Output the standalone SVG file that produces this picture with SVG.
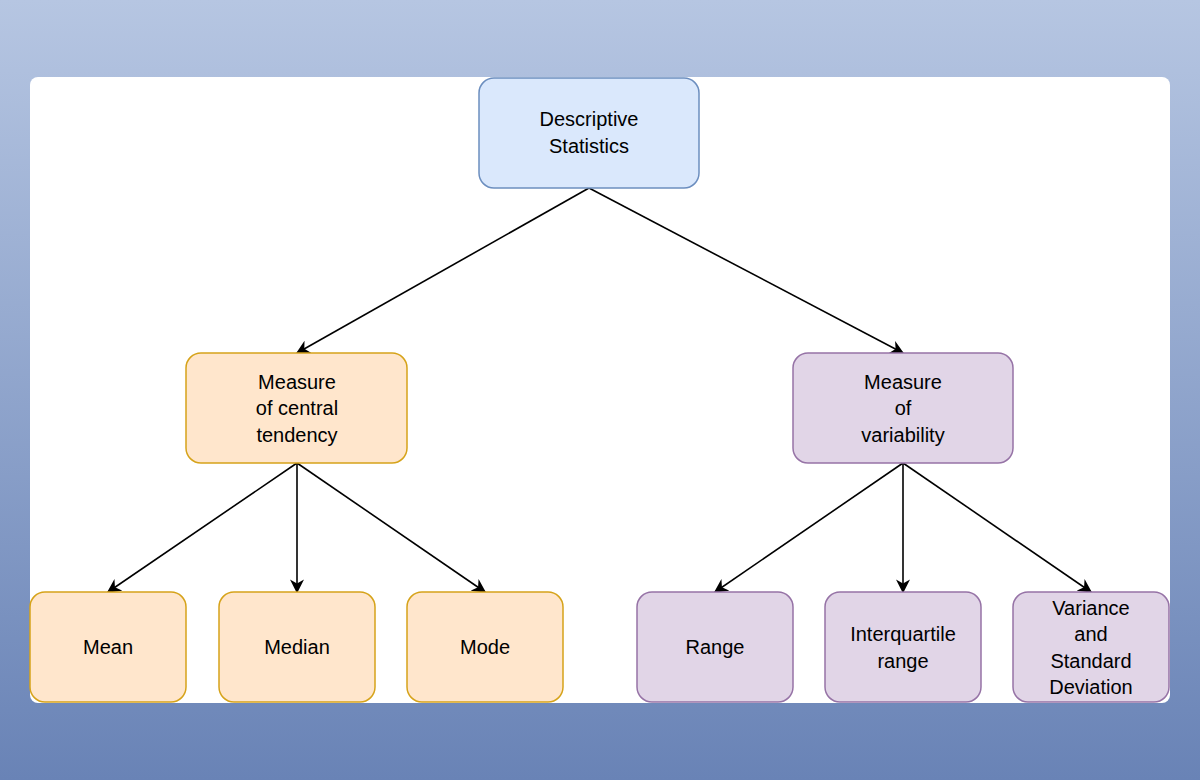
<svg xmlns="http://www.w3.org/2000/svg" width="1200" height="780" viewBox="0 0 1200 780">
<defs>
<linearGradient id="bg" x1="0" y1="0" x2="0" y2="1"><stop offset="0" stop-color="#b6c6e2"/><stop offset="1" stop-color="#6983b6"/></linearGradient>
<marker id="ah" viewBox="0 0 10 10" refX="9" refY="5" markerWidth="7" markerHeight="7" markerUnits="userSpaceOnUse" orient="auto"><path d="M0,0 L10,5 L0,10 L3,5 Z" fill="#000"/></marker>
<marker id="a" viewBox="0 0 10 10" refX="9" refY="5" markerWidth="14" markerHeight="14" markerUnits="userSpaceOnUse" orient="auto"><path d="M0,0 L10,5 L0,10 L3,5 Z" fill="#000"/></marker>
</defs>
<style>
text{font-family:"Liberation Sans",Arial,sans-serif;font-size:20px;fill:#000;text-anchor:middle}
.b{fill:#dae8fc;stroke:#6c8ebf;stroke-width:1.5}
.o{fill:#ffe6cc;stroke:#d6a31a;stroke-width:1.5}
.p{fill:#e1d5e7;stroke:#9673a6;stroke-width:1.5}
.c line{stroke:#000;stroke-width:1.6;marker-end:url(#a)}
</style>
<rect width="1200" height="780" fill="url(#bg)"/>
<rect x="30" y="77" width="1140" height="626" rx="8" fill="#fff"/>
<g class="c" id="connectors">
<line x1="589" y1="188" x2="297" y2="353"/>
<line x1="589" y1="188" x2="903" y2="353"/>
<line x1="297" y1="463" x2="108" y2="592"/>
<line x1="297" y1="463" x2="297" y2="592"/>
<line x1="297" y1="463" x2="485" y2="592"/>
<line x1="903" y1="463" x2="715" y2="592"/>
<line x1="903" y1="463" x2="903" y2="592"/>
<line x1="903" y1="463" x2="1091" y2="592"/>
</g>
<g id="root"><rect class="b" x="479" y="78" width="220" height="110" rx="15"/><text x="589" y="126">Descriptive</text><text x="589" y="153">Statistics</text></g>
<g id="central"><rect class="o" x="186" y="353" width="221" height="110" rx="15"/><text x="297" y="389">Measure</text><text x="297" y="415">of central</text><text x="297" y="442">tendency</text></g>
<g id="variability"><rect class="p" x="793" y="353" width="220" height="110" rx="15"/><text x="903" y="389">Measure</text><text x="903" y="415">of</text><text x="903" y="442">variability</text></g>
<g id="mean"><rect class="o" x="30" y="592" width="156" height="110" rx="15"/><text x="108" y="654">Mean</text></g>
<g id="median"><rect class="o" x="219" y="592" width="156" height="110" rx="15"/><text x="297" y="654">Median</text></g>
<g id="mode"><rect class="o" x="407" y="592" width="156" height="110" rx="15"/><text x="485" y="654">Mode</text></g>
<g id="range"><rect class="p" x="637" y="592" width="156" height="110" rx="15"/><text x="715" y="654">Range</text></g>
<g id="iqr"><rect class="p" x="825" y="592" width="156" height="110" rx="15"/><text x="903" y="641">Interquartile</text><text x="903" y="668">range</text></g>
<g id="variance"><rect class="p" x="1013" y="592" width="156" height="110" rx="15"/><text x="1091" y="615">Variance</text><text x="1091" y="641">and</text><text x="1091" y="668">Standard</text><text x="1091" y="694">Deviation</text></g>
</svg>
